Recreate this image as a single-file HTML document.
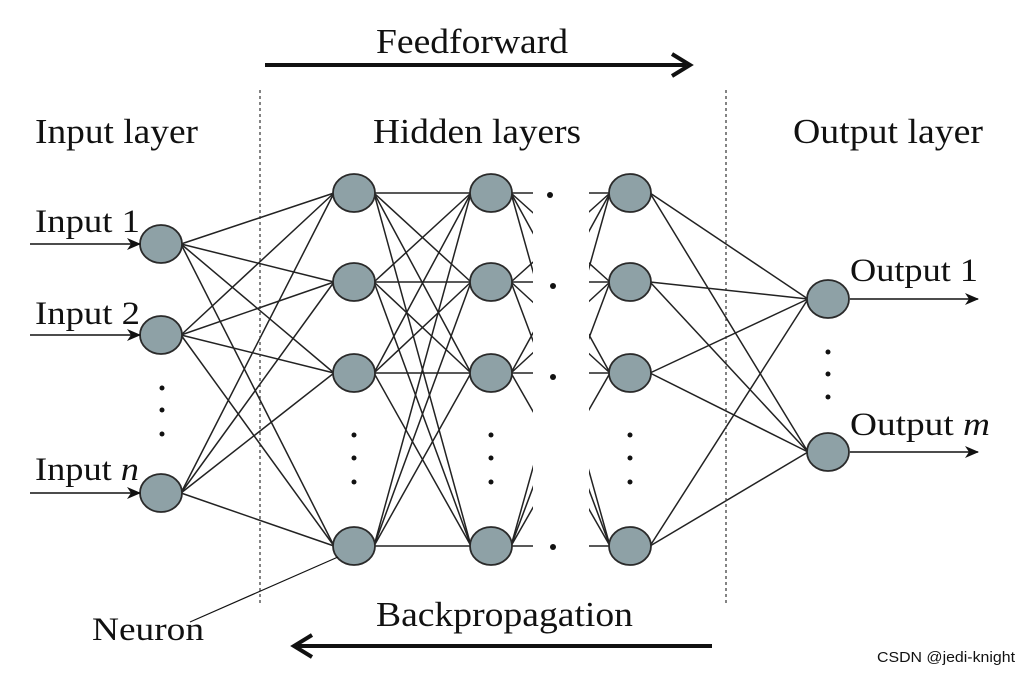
<!DOCTYPE html>
<html><head><meta charset="utf-8"><style>
html,body{margin:0;padding:0;background:#fff;width:1032px;height:675px;overflow:hidden}
svg text{font-family:"Liberation Serif",serif;fill:#111}
</style></head><body>
<svg id="s" width="1032" height="675" xmlns="http://www.w3.org/2000/svg">
<defs>
<marker id="a" markerWidth="14" markerHeight="12" refX="13" refY="6" orient="auto" markerUnits="userSpaceOnUse"><path d="M0,0 L14,6 L0,12 L4,6z" fill="#111"/></marker>
</defs>
<g id="lines" stroke="#222" stroke-width="1.5" fill="none"></g>
<rect x="533" y="170" width="56" height="400" fill="#fff"/>
<g id="nodes" fill="#8ea1a6" stroke="#2a2a2a" stroke-width="1.8"></g>
<g fill="#111">
<circle cx="550" cy="195" r="3"/><circle cx="553" cy="286" r="3"/><circle cx="553" cy="377" r="3"/><circle cx="553" cy="547" r="3"/>
<circle cx="162" cy="388" r="2.5"/><circle cx="162" cy="410" r="2.5"/><circle cx="162" cy="434" r="2.5"/>
<circle cx="354" cy="435" r="2.5"/><circle cx="354" cy="458" r="2.5"/><circle cx="354" cy="482" r="2.5"/>
<circle cx="491" cy="435" r="2.5"/><circle cx="491" cy="458" r="2.5"/><circle cx="491" cy="482" r="2.5"/>
<circle cx="630" cy="435" r="2.5"/><circle cx="630" cy="458" r="2.5"/><circle cx="630" cy="482" r="2.5"/>
<circle cx="828" cy="352" r="2.5"/><circle cx="828" cy="374" r="2.5"/><circle cx="828" cy="397" r="2.5"/>
</g>
<line x1="260" y1="90" x2="260" y2="605" stroke="#333" stroke-width="1.2" stroke-dasharray="3,3"/>
<line x1="726" y1="90" x2="726" y2="605" stroke="#333" stroke-width="1.2" stroke-dasharray="3,3"/>
<line x1="265" y1="65" x2="686" y2="65" stroke="#111" stroke-width="4"/>
<path d="M672,54 L690,65 L672,76" stroke="#111" stroke-width="4" fill="none"/>
<line x1="298" y1="646" x2="712" y2="646" stroke="#111" stroke-width="4"/>
<path d="M312,635 L294,646 L312,657" stroke="#111" stroke-width="4" fill="none"/>
<line x1="30" y1="244" x2="140" y2="244" stroke="#111" stroke-width="1.6" marker-end="url(#a)"/>
<line x1="30" y1="335" x2="140" y2="335" stroke="#111" stroke-width="1.6" marker-end="url(#a)"/>
<line x1="30" y1="493" x2="140" y2="493" stroke="#111" stroke-width="1.6" marker-end="url(#a)"/>
<line x1="850" y1="299" x2="978" y2="299" stroke="#111" stroke-width="1.6" marker-end="url(#a)"/>
<line x1="850" y1="452" x2="978" y2="452" stroke="#111" stroke-width="1.6" marker-end="url(#a)"/>
<line x1="338" y1="557" x2="190" y2="622" stroke="#111" stroke-width="1.2"/>
<text x="376" y="53" font-size="35" textLength="192" lengthAdjust="spacingAndGlyphs">Feedforward</text>
<text x="35" y="143" font-size="35" textLength="163" lengthAdjust="spacingAndGlyphs">Input layer</text>
<text x="373" y="143" font-size="35" textLength="208" lengthAdjust="spacingAndGlyphs">Hidden layers</text>
<text x="793" y="143" font-size="35" textLength="190" lengthAdjust="spacingAndGlyphs">Output layer</text>
<text x="35" y="232" font-size="33" textLength="105" lengthAdjust="spacingAndGlyphs">Input 1</text>
<text x="35" y="324" font-size="33" textLength="105" lengthAdjust="spacingAndGlyphs">Input 2</text>
<text x="35" y="480" font-size="33" textLength="104" lengthAdjust="spacingAndGlyphs">Input <tspan font-style="italic">n</tspan></text>
<text x="850" y="281" font-size="33" textLength="128" lengthAdjust="spacingAndGlyphs">Output 1</text>
<text x="850" y="435" font-size="33" textLength="140" lengthAdjust="spacingAndGlyphs">Output <tspan font-style="italic">m</tspan></text>
<text x="92" y="640" font-size="33" textLength="112" lengthAdjust="spacingAndGlyphs">Neuron</text>
<text x="376" y="626" font-size="35" textLength="257" lengthAdjust="spacingAndGlyphs">Backpropagation</text>
<text x="877" y="662" font-size="15" textLength="138" lengthAdjust="spacingAndGlyphs" style="font-family:'Liberation Sans',sans-serif" fill="#777">CSDN @jedi-knight</text>
</svg>
<script>
var NS="http://www.w3.org/2000/svg";
var L=document.getElementById("lines"),N=document.getElementById("nodes");
var layers=[[161,[244,335,493]],[354,[193,282,373,546]],[491,[193,282,373,546]],[630,[193,282,373,546]],[828,[299,452]]];
function ln(a,b,c,d){var e=document.createElementNS(NS,"line");e.setAttribute("x1",a);e.setAttribute("y1",b);e.setAttribute("x2",c);e.setAttribute("y2",d);L.appendChild(e);}
for(var i=0;i<layers.length-1;i++){var A=layers[i],B=layers[i+1];
A[1].forEach(function(y1){B[1].forEach(function(y2){ln(A[0]+20,y1,B[0]-20,y2);});});}
layers.forEach(function(l){l[1].forEach(function(y){var e=document.createElementNS(NS,"ellipse");e.setAttribute("cx",l[0]);e.setAttribute("cy",y);e.setAttribute("rx",21);e.setAttribute("ry",19);N.appendChild(e);});});
</script>
</body></html>
